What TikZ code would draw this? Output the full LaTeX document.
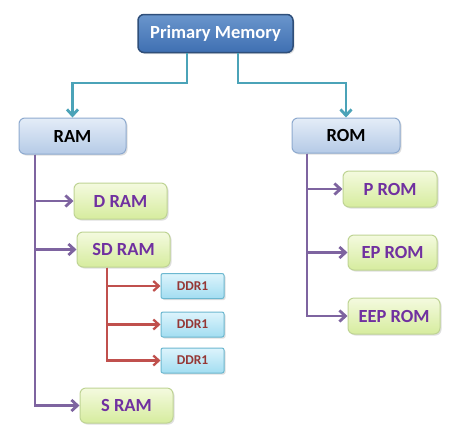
\documentclass[tikz,border=0pt]{standalone}
\usepackage{fontspec}
\setmainfont{Carlito}
\usetikzlibrary{arrows.meta,shadows}
\definecolor{pmfill1}{HTML}{6A95CC}
\definecolor{pmfill2}{HTML}{3F70B2}
\definecolor{pmdraw}{HTML}{2F4F7A}
\definecolor{bl1}{HTML}{E4EDF8}
\definecolor{bl2}{HTML}{B5CAE6}
\definecolor{bldraw}{HTML}{8EAACF}
\definecolor{gr1}{HTML}{F4FADF}
\definecolor{gr2}{HTML}{D6EC9E}
\definecolor{grdraw}{HTML}{BFD494}
\definecolor{cy1}{HTML}{DDF4FC}
\definecolor{cy2}{HTML}{A2DDF1}
\definecolor{cydraw}{HTML}{6CB8D0}
\definecolor{tealc}{HTML}{4BA3B8}
\definecolor{purp}{HTML}{7E64A0}
\definecolor{redc}{HTML}{C0504D}
\definecolor{purtext}{HTML}{7030A0}
\definecolor{redtext}{HTML}{953735}
\tikzset{
  base/.style={rounded corners=6pt, line width=1pt, align=center, inner sep=0pt,
    font=\fontsize{18.5}{20}\selectfont\bfseries,
    drop shadow={shadow xshift=1.5pt, shadow yshift=-1.5pt, opacity=0.25}},
  pmbox/.style={base, draw=pmdraw, top color=pmfill1, bottom color=pmfill2, text=white, line width=1.5pt},
  bluebox/.style={base, draw=bldraw, top color=bl1, bottom color=bl2, text=black},
  greenbox/.style={base, draw=grdraw, top color=gr1, bottom color=gr2, text=purtext},
  ddrbox/.style={base, rounded corners=2pt, draw=cydraw, top color=cy1, bottom color=cy2, text=redtext,
    font=\fontsize{13.5}{15}\selectfont\bfseries, minimum width=63pt, minimum height=25pt},
  tealline/.style={draw=tealc, line width=2.8pt, -{Straight Barb[length=6pt,width=11pt]}},
  purline/.style={draw=purp, line width=2.8pt, -{Straight Barb[length=6pt,width=11pt]}},
  redline/.style={draw=redc, line width=2.3pt, -{Straight Barb[length=5.5pt,width=10pt]}},
}
\begin{document}
\begin{tikzpicture}[x=1pt,y=-1pt]
\useasboundingbox[fill=white] (0,0) rectangle (474,432);
\node[pmbox, minimum width=155pt, minimum height=38pt] (pm) at (215.5,33.5) {Primary Memory};
\node[bluebox, minimum width=107pt, minimum height=36pt] (ram) at (72.5,136) {RAM};
\node[bluebox, minimum width=108pt, minimum height=35pt] (rom) at (346,135.5) {ROM};
\node[greenbox, minimum width=93pt, minimum height=36pt] (dram) at (120.5,201) {D RAM};
\node[greenbox, minimum width=93pt, minimum height=35pt] (sdram) at (123.5,249.5) {SD RAM};
\node[ddrbox] (ddra) at (192.5,286) {DDR1};
\node[ddrbox] (ddrb) at (192.5,324.5) {DDR1};
\node[ddrbox] (ddrc) at (192.5,360.5) {DDR1};
\node[greenbox, minimum width=93pt, minimum height=35pt] (sram) at (126.5,405.5) {S RAM};
\node[greenbox, minimum width=94pt, minimum height=36pt] (prom) at (390,189) {P ROM};
\node[greenbox, minimum width=89pt, minimum height=35pt] (eprom) at (392.5,252.5) {EP ROM};
\node[greenbox, minimum width=92pt, minimum height=36pt] (eeprom) at (394,316) {EEP ROM};
% teal connectors
\coordinate (tl) at (187,83);
\coordinate (tr) at (238,83);
\draw[tealline] (pm.south -| tl) -- (tl) -| (ram.north);
\draw[tealline] (pm.south -| tr) -- (tr) -| (rom.north);
% RAM branch
\coordinate (rv) at (35,0);
\draw[purline] (ram.south -| rv) |- (dram.west);
\draw[purline] (ram.south -| rv) |- (sdram.west);
\draw[purline] (ram.south -| rv) |- (sram.west);
% SD RAM branch
\coordinate (sv) at (107,0);
\draw[redline] (sdram.south -| sv) |- (ddra.west);
\draw[redline] (sdram.south -| sv) |- (ddrb.west);
\draw[redline] (sdram.south -| sv) |- (ddrc.west);
% ROM branch
\coordinate (ov) at (307,0);
\draw[purline] (rom.south -| ov) |- (prom.west);
\draw[purline] (rom.south -| ov) |- (eprom.west);
\draw[purline] (rom.south -| ov) |- (eeprom.west);
\end{tikzpicture}
\end{document}
